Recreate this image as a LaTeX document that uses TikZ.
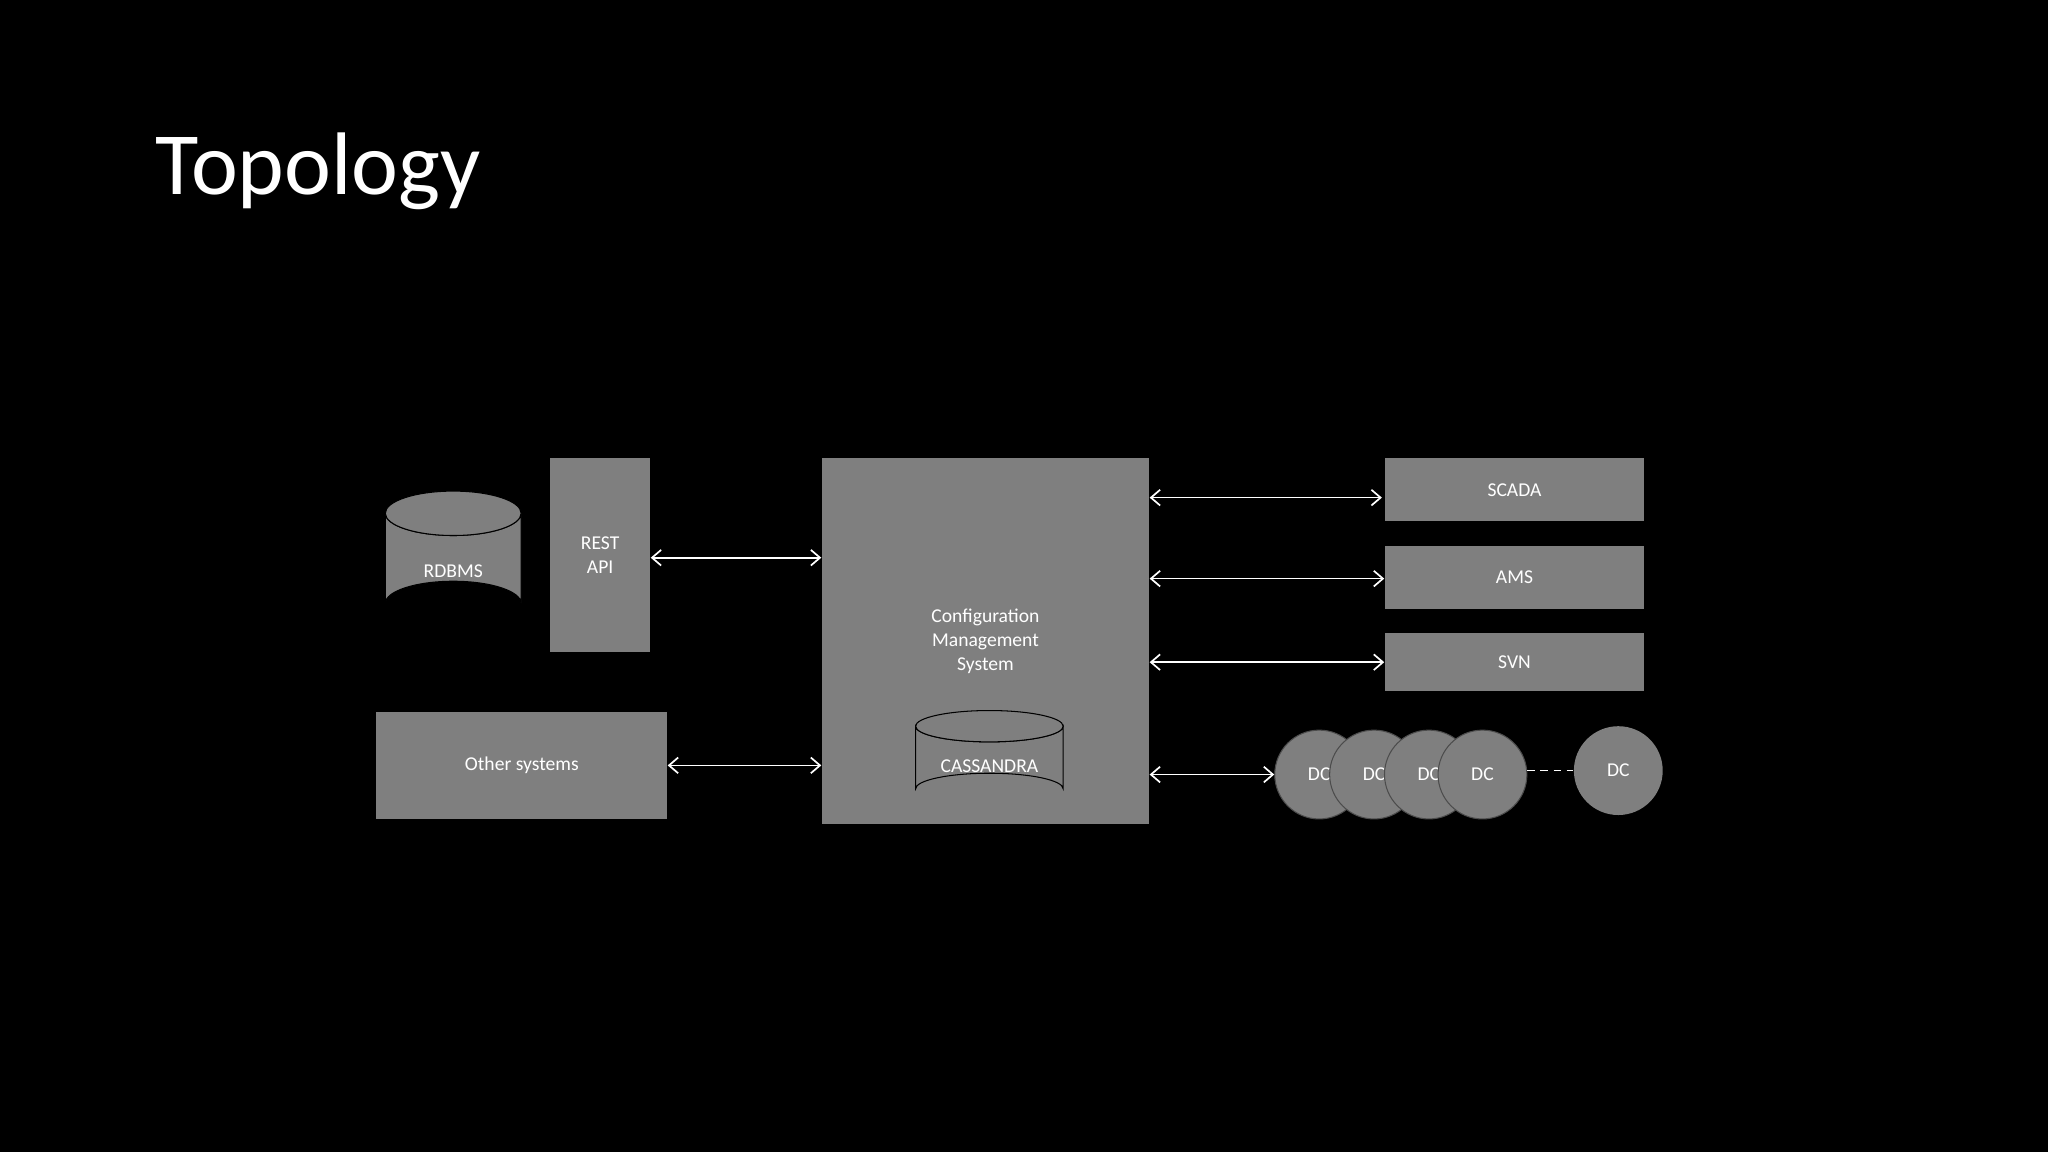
\documentclass[tikz,border=0pt]{standalone}
\usepackage{fontspec}
\setmainfont{Carlito}
\usetikzlibrary{arrows.meta}
\definecolor{boxgray}{HTML}{7F7F7F}
\begin{document}
\begin{tikzpicture}[x=1pt,y=-1pt,
  box/.style={fill=boxgray,draw=none,text=white,font=\fontsize{15}{18}\selectfont,align=center,inner sep=0pt},
  link/.style={draw=white,line width=1.3pt,{Straight Barb[length=7pt,width=12pt]}-{Straight Barb[length=7pt,width=12pt]}},
  dcnode/.style={circle,fill=boxgray,draw=black!70,line width=0.8pt,minimum size=68pt,inner sep=0pt,text=white,font=\fontsize{15}{18}\selectfont}]
\fill[black] (0,0) rectangle (1568,882);
\useasboundingbox (0,0) rectangle (1568,882);
\node[anchor=west,text=white,font=\fontsize{68}{80}\selectfont,inner sep=0pt] (title) at (119,131) {Topology};
% RDBMS cylinder
\fill[boxgray,draw=black,line width=0.8pt] (295,393) -- (295,462) arc[start angle=180,end angle=360,x radius=52,y radius=17] -- (399,393) arc[start angle=0,end angle=180,x radius=52,y radius=17] -- cycle;
\draw[black,line width=0.8pt,fill=boxgray] (347,393) ellipse[x radius=52,y radius=17];
\node[box,fill=none] (rdbms) at (347,437) {RDBMS};
% boxes
\node[box,minimum width=77pt,minimum height=148pt] (rest) at (459.5,425) {REST\\API};
\node[box,minimum width=223pt,minimum height=82pt] (other) at (399.5,586) {Other systems};
\node[box,minimum width=251pt,minimum height=280pt] (cms) at (754.5,491) {};
\node[box,fill=none] (cmstext) at (754.5,491) {Configuration\\Management\\System};
% CASSANDRA cylinder
\fill[boxgray,draw=black,line width=0.8pt] (701,556) -- (701,604) arc[start angle=180,end angle=360,x radius=56.5,y radius=12] -- (814,556) arc[start angle=0,end angle=180,x radius=56.5,y radius=12] -- cycle;
\draw[black,line width=0.8pt,fill=boxgray] (757.5,556) ellipse[x radius=56.5,y radius=12];
\node[box,fill=none] (cass) at (757.5,587) {CASSANDRA};
\node[box,minimum width=199pt,minimum height=48pt] (scada) at (1159.5,375) {SCADA};
\node[box,minimum width=199pt,minimum height=48pt] (ams) at (1159.5,442) {AMS};
\node[box,minimum width=199pt,minimum height=44pt] (svn) at (1159.5,507) {SVN};
% DC circles
\node[dcnode] (dc1) at (1010,593) {DC};
\node[dcnode] (dc2) at (1052,593) {DC};
\node[dcnode] (dc3) at (1094,593) {DC};
\node[dcnode] (dc4) at (1135,593) {DC};
\node[dcnode,draw=none] (dc5) at (1239,590) {DC};
\draw[white,line width=1.3pt,dash pattern=on 6pt off 4pt] (dc4.east |- 0,590) -- (dc5.west);
% links
\coordinate (a1) at (500,427); \coordinate (a2) at (628,427);
\draw[link] (rest.east |- a1) -- (cms.west |- a1);
\draw[link] (other.east) -- (cms.west |- other.east);
\draw[link] (cms.east |- 0,381) -- (1058,381);
\draw[link] (cms.east |- 0,443) -- (ams.west |- 0,443);
\draw[link] (cms.east |- 0,507) -- (svn.west);
\draw[link] (cms.east |- 0,593) -- (dc1.west);
\end{tikzpicture}
\end{document}
